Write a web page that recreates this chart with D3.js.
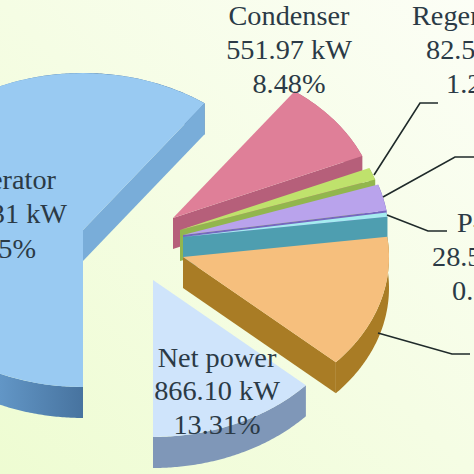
<!DOCTYPE html>
<html>
<head>
<meta charset="utf-8">
<script src="https://cdn.jsdelivr.net/npm/d3@7"></script>
<style>
    html, body { margin: 0; padding: 0; overflow: hidden; }
    svg { display: block; }
    text { font-family: "Liberation Serif", serif; font-size: 28.3px; fill: #2b3a46; }
</style>
</head>
<body>
<script>
// slices in clockwise order, starting from straight down
var sliceNames = ["Evaporator", "Condenser", "Regenerator", "Other", "P", "Turbine", "Net power"];
var sliceShares = [60.05, 8.48, 1.27, 2.7, 0.44, 13.75, 13.31];
var faceColors = ["#99caf2", "#df7f98", "#bfe26c", "#b9a3ec", "#a5ecf0", "#f6bf7d", "#cfe4fb"];
var edgeColors = ["#79add9", "#b65f7a", "#92b64e", "#7668bf", "#4e9eb0", "#a97c25", "#7f97b8"];
var wallColors = ["url(#evapWall)", "#b65f7a", "#92b64e", "#7668bf", "#4e9eb0", "#a97c25", "#7f97b8"];

// where each slice's tip ends up once the pie is pulled apart
var apexX = [83, 173, 180, 183, 183, 183, 153];
var apexY = [230, 218, 230, 235, 237, 257, 280];

var labelLines = [
    { text: "erator", x: 56, y: 189, anchor: "end" },
    { text: "31 kW", x: 67, y: 223, anchor: "end" },
    { text: "5%", x: 36, y: 258, anchor: "end" },
    { text: "Condenser", x: 289, y: 25, anchor: "middle" },
    { text: "551.97 kW", x: 289, y: 59, anchor: "middle" },
    { text: "8.48%", x: 289, y: 93, anchor: "middle" },
    { text: "Regen", x: 412, y: 25, anchor: "start" },
    { text: "82.5", x: 426, y: 59, anchor: "start" },
    { text: "1.2", x: 446, y: 93, anchor: "start" },
    { text: "P-", x: 457, y: 232, anchor: "start" },
    { text: "28.5", x: 432, y: 266, anchor: "start" },
    { text: "0.", x: 452, y: 300, anchor: "start" },
    { text: "Net power", x: 217, y: 367, anchor: "middle" },
    { text: "866.10 kW", x: 217, y: 400, anchor: "middle" },
    { text: "13.31%", x: 217, y: 434, anchor: "middle" }
];

var leaders = [
    [[374, 175], [420, 103], [438, 103]],
    [[383, 197], [455, 157], [474, 157]],
    [[387, 215], [428, 231], [447, 231]],
    [[378, 333], [452, 354], [470, 354]]
];

var w = 474;
var h = 474;
var rx = 206;
var ry = 157;
var depth = 31;

var svg = d3.select("body")
    .append("svg")
    .attr("width", w)
    .attr("height", h);

var defs = svg.append("defs");

var bg = defs.append("linearGradient")
    .attr("id", "bg")
    .attr("x1", 1).attr("y1", 0)
    .attr("x2", 0).attr("y2", 1);
bg.append("stop").attr("offset", 0).attr("stop-color", "#fcfef6");
bg.append("stop").attr("offset", 1).attr("stop-color", "#eefcd2");

var evapWall = defs.append("linearGradient")
    .attr("id", "evapWall")
    .attr("gradientUnits", "userSpaceOnUse")
    .attr("x1", 0).attr("y1", 0)
    .attr("x2", 83).attr("y2", 0);
evapWall.append("stop").attr("offset", 0).attr("stop-color", "#6296c6");
evapWall.append("stop").attr("offset", 1).attr("stop-color", "#47739f");

svg.append("rect")
    .attr("width", w)
    .attr("height", h)
    .attr("fill", "url(#bg)");

var pie = d3.pie()
    .sort(null)
    .startAngle(Math.PI)
    .endAngle(3 * Math.PI);

var arcs = pie(sliceShares);

var arc = d3.arc()
    .innerRadius(0)
    .outerRadius(rx);

var line = d3.line();

function rimPoint(i, angle, drop) {
    return [
        apexX[i] + rx * Math.sin(angle),
        apexY[i] - ry * Math.cos(angle) + drop
    ];
}

// outer rim, hanging down from the arc of the slice
function rimWall(d, i) {
    var top = d3.range(d.startAngle, d.endAngle, 0.01).concat(d.endAngle).map(function (a) {
        return rimPoint(i, a, 0);
    });
    var bottom = top.slice().reverse().map(function (p) {
        return [p[0], p[1] + depth];
    });
    return line(top.concat(bottom)) + "Z";
}

// the cut face under the slice's closing edge
function edgeWall(d, i) {
    var tip = rimPoint(i, d.endAngle, 0);
    return line([
        [apexX[i], apexY[i]],
        tip,
        [tip[0], tip[1] + depth],
        [apexX[i], apexY[i] + depth]
    ]) + "Z";
}

var slices = svg.selectAll("g.slice")
    .data(arcs)
    .enter()
    .append("g")
    .attr("class", "slice");

slices.append("path")
    .attr("d", rimWall)
    .attr("fill", function (d, i) { return wallColors[i]; });

slices.append("path")
    .attr("d", edgeWall)
    .attr("fill", function (d, i) { return edgeColors[i]; });

slices.append("path")
    .attr("transform", function (d, i) {
        return "translate(" + apexX[i] + "," + apexY[i] + ") scale(1," + (ry / rx) + ")";
    })
    .attr("d", arc)
    .attr("fill", function (d, i) { return faceColors[i]; });

svg.selectAll("path.leader")
    .data(leaders)
    .enter()
    .append("path")
    .attr("class", "leader")
    .attr("d", line)
    .attr("fill", "none")
    .attr("stroke", "#1f2a2a")
    .attr("stroke-width", 1.6);

svg.selectAll("text.label")
    .data(labelLines)
    .enter()
    .append("text")
    .attr("class", "label")
    .attr("x", function (d) { return d.x; })
    .attr("y", function (d) { return d.y; })
    .attr("text-anchor", function (d) { return d.anchor; })
    .text(function (d) { return d.text; });
</script>
</body>
</html>
